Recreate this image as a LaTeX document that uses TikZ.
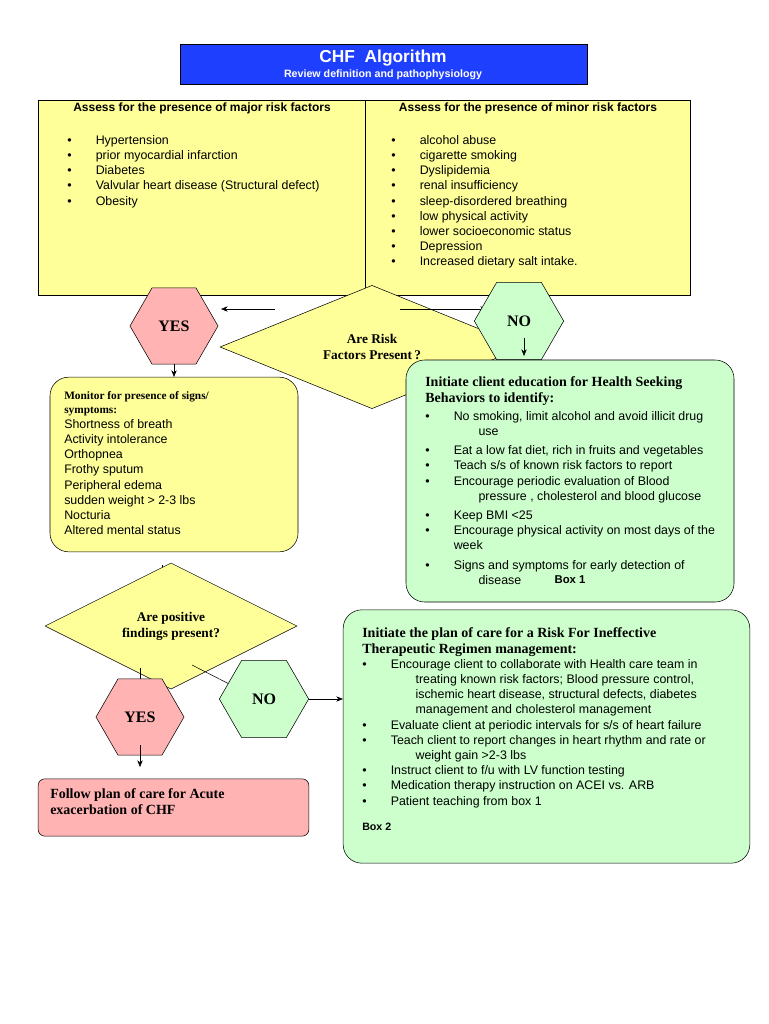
\documentclass[tikz,border=0pt]{standalone}
\usepackage{fontspec}
\setmainfont{Liberation Sans}
\newfontfamily\serifb{Liberation Serif}
\usetikzlibrary{shapes.geometric,arrows.meta}
\definecolor{ylw}{HTML}{FFFF99}
\definecolor{grn}{HTML}{CCFFCC}
\definecolor{pnk}{HTML}{FFB3B3}
\definecolor{blu}{HTML}{1F3FFF}
\newcommand{\bl}{\makebox[2.3em][l]{\textbullet}}
\newcommand{\cn}{\hspace*{4.3em}}
\newcommand{\cm}{\hspace*{2.3em}}
\begin{document}
\begin{tikzpicture}[x=0.75pt,y=-0.75pt,
  body/.style={font=\fontsize{9.3}{11.4}\selectfont,align=left,anchor=north west,inner sep=0pt},
  hd/.style={font=\serifb\bfseries\fontsize{10.5}{12.5}\selectfont,align=left,anchor=north west,inner sep=0pt},
  hexa/.style={draw,regular polygon,regular polygon sides=6,shape border rotate=0,minimum size=25pt,inner sep=0pt},
  dia/.style={draw,diamond,fill=ylw,inner sep=0pt,font=\serifb\bfseries\fontsize{10}{12}\selectfont,align=center},
  arr/.style={-{Stealth[length=5pt,width=4pt]}},
  rbox/.style={draw,rounded corners=14pt}]
\useasboundingbox (0,0) rectangle (768,1024);
\fill[white] (0,0) rectangle (768,1024);
% title
\node[draw,fill=blu,minimum width=305pt,minimum height=30pt,inner sep=0pt] (title) at (383.5,64) {};
\node[text=white,font=\bfseries\fontsize{13}{13}\selectfont,inner sep=0pt] (t1) at (383,58) {CHF\ \ Algorithm};
\node[text=white,font=\bfseries\fontsize{8}{8}\selectfont,inner sep=0pt] (t2) at (383,75) {Review definition and pathophysiology};
% risk box
\node[draw,fill=ylw,minimum width=489pt,minimum height=146pt,inner sep=0pt] (risk) at (364,197.5) {};
\draw (365,100) -- (365,295);
\node[font=\bfseries\fontsize{9}{11}\selectfont,inner sep=0pt] (rh1) at (202,108) {Assess for the presence of major risk factors};
\node[font=\bfseries\fontsize{9}{11}\selectfont,inner sep=0pt] (rh2) at (528,108) {Assess for the presence of minor risk factors};
\node[body] (rl) at (67,135) {\bl Hypertension\\\bl prior myocardial infarction\\\bl Diabetes\\\bl Valvular heart disease (Structural defect)\\\bl Obesity};
\node[body] (rr) at (391,135) {\bl alcohol abuse\\\bl cigarette smoking\\\bl Dyslipidemia\\\bl renal insufficiency\\\bl sleep-disordered breathing\\\bl low physical activity\\\bl lower socioeconomic status\\\bl Depression\\\bl Increased dietary salt intake.};
% diamond 1
\node[dia,minimum width=228pt,minimum height=75pt] (d1) at (372,347) {Are Risk\\Factors Present\,?};
\coordinate (a1s) at (275,309); \coordinate (a1e) at (221,309);
\coordinate (a2s) at (400,309); \coordinate (a2e) at (487,309);
\draw[arr] (a1s) -- (a1e);
\draw[arr] (a2s) -- (a2e);
\node[hexa,fill=pnk,minimum width=66pt,minimum height=25.5pt,font=\serifb\bfseries\fontsize{12}{12}\selectfont] (yes1) at (174,326) {YES};
\node[hexa,fill=grn,minimum width=67pt,minimum height=25.5pt,font=\serifb\bfseries\fontsize{12}{12}\selectfont] (no1) at (519,321) {NO};
% monitor box
\node[rbox,fill=ylw,minimum width=186pt,minimum height=131pt] (mon) at (174,464.5) {};
\draw[arr] (yes1.south) -- (mon.north -| yes1.south);
\node[body] (mont) at (64,391) {\textbf{\fontsize{8.5}{10}\selectfont\serifb Monitor for presence of signs/}\\[-1pt]\textbf{\fontsize{8.5}{10}\selectfont\serifb symptoms:}\\Shortness of breath\\Activity intolerance\\Orthopnea\\Frothy sputum\\Peripheral edema\\sudden weight > 2-3 lbs\\Nocturia\\Altered mental status};
% box 1
\node[rbox,fill=grn,minimum width=246pt,minimum height=181.5pt] (b1) at (570,481) {};
\coordinate (a3s) at (524,338); \coordinate (a3e) at (524,356);
\draw[arr] (a3s) -- (a3e);
\node[hd] (b1h) at (425,376) {Initiate client education for Health Seeking\\Behaviors to identify:};
\node[body] (b1t) at (425,411) {\bl No smoking, limit alcohol and avoid illicit drug\\\cn use\\[3pt]\bl Eat a low fat diet, rich in fruits and vegetables\\\bl Teach s/s of known risk factors to report\\\bl Encourage periodic evaluation of Blood\\\cn pressure , cholesterol and blood glucose\\[3pt]\bl Keep BMI <25\\\bl Encourage physical activity on most days of the\\\cm week\\[3pt]\bl Signs and symptoms for early detection of\\\cn disease};
\node[font=\bfseries\fontsize{8.5}{10}\selectfont,inner sep=0pt] (box1) at (570,580) {Box 1};
% diamond 2
\coordinate (a4s) at (162,565); \coordinate (a4e) at (162,586);
\draw[arr] (a4s) -- (a4e);
\node[dia,minimum width=189pt,minimum height=60pt] (d2) at (171,626) {Are positive\\findings present?};
\coordinate (a5s) at (140,668); \coordinate (a5e) at (140,690);
\draw[arr] (a5s) -- (a5e);
\node[hexa,fill=pnk,minimum width=66pt,minimum height=25.5pt,font=\serifb\bfseries\fontsize{12}{12}\selectfont] (yes2) at (140,717) {YES};
\coordinate (a6s) at (140,745); \coordinate (a6e) at (140,767);
\draw[arr] (a6s) -- (a6e);
\coordinate (a7s) at (192,665); \coordinate (a7e) at (237,688);
\draw[arr] (a7s) -- (a7e);
\node[hexa,fill=grn,minimum width=67pt,minimum height=25.5pt,font=\serifb\bfseries\fontsize{12}{12}\selectfont] (no2) at (264,699) {NO};
% follow box
\node[draw,rounded corners=5pt,fill=pnk,minimum width=203pt,minimum height=43pt] (fol) at (173.5,807.5) {};
\node[hd] (folt) at (50,788) {Follow plan of care for Acute\\exacerbation of CHF};
% box 2
\node[rbox,fill=grn,minimum width=305pt,minimum height=190pt] (b2) at (546.5,736.5) {};
\draw[arr] (no2.east) -- (b2.west |- no2.east);
\node[hd] (b2h) at (362,627) {Initiate the plan of care for a Risk For Ineffective\\Therapeutic Regimen management:};
\node[body] (b2t) at (362,659) {\bl Encourage client to collaborate with Health care team in\\\cn treating known risk factors; Blood pressure control,\\\cn ischemic heart disease, structural defects, diabetes\\\cn management and cholesterol management\\\bl Evaluate client at periodic intervals for s/s of heart failure\\\bl Teach client to report changes in heart rhythm and rate or\\\cn weight gain >2-3 lbs\\\bl Instruct client to f/u with LV function testing\\\bl Medication therapy instruction on ACEI vs. ARB\\\bl Patient teaching from box 1};
\node[font=\bfseries\fontsize{8}{10}\selectfont,inner sep=0pt,anchor=west] (box2) at (362,827) {Box 2};
\end{tikzpicture}
\end{document}
